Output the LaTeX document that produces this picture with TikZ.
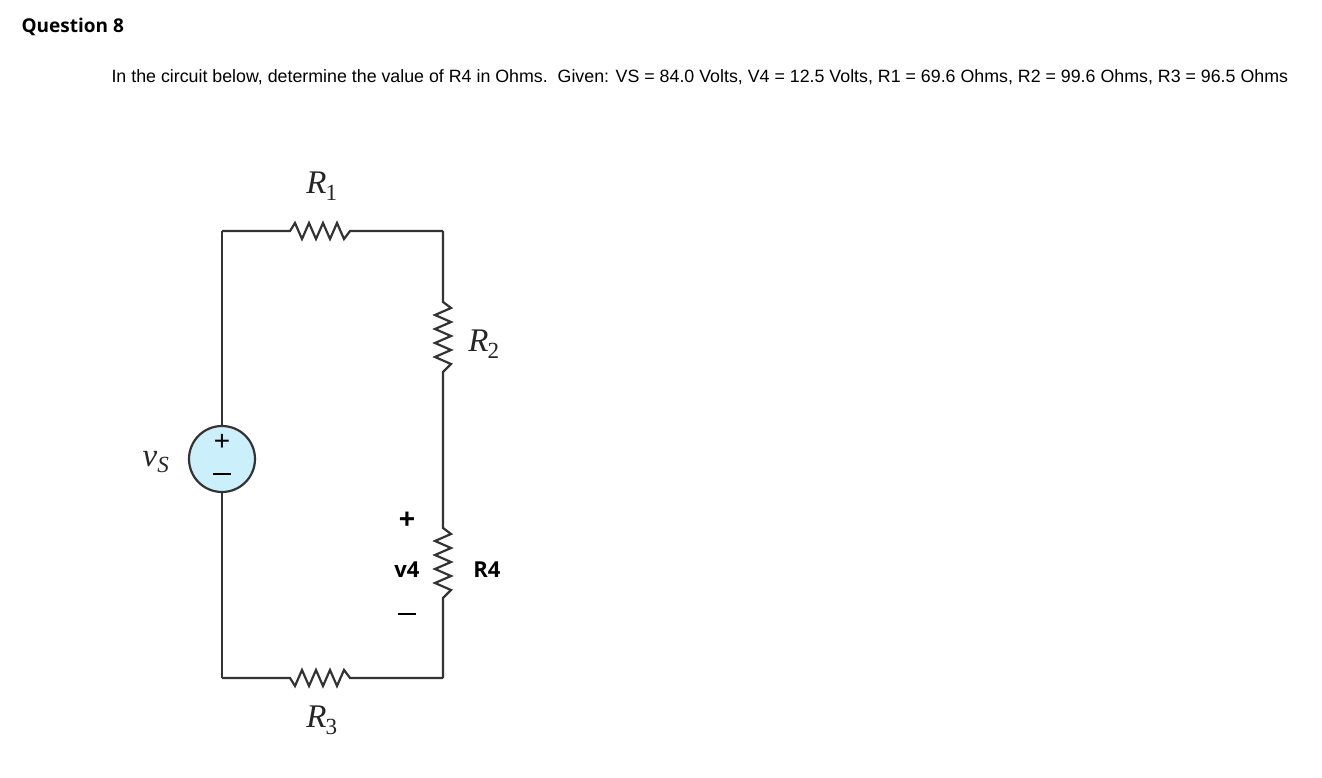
\documentclass[tikz,border=0pt]{standalone}
\usepackage{fontspec}
\setmainfont{Liberation Sans}
\newfontfamily\osans{Open Sans}
\newfontfamily\serifR{Liberation Serif}
\begin{document}
\begin{tikzpicture}[x=1pt,y=-1pt,
  wire/.style={line width=2.2pt,draw=black!80},
  lbl/.style={font=\serifR\fontsize{33}{33}\selectfont\itshape, text=black!85}]
\useasboundingbox (0,0) rectangle (1322,778);
\node[anchor=west,font=\osans\bfseries\fontsize{19}{19}\selectfont] (q) at (18,27) {Question 8};
\node[anchor=west,font=\fontsize{17.8}{17.8}\selectfont] (t) at (108,77) {In the circuit below, determine the value of R4 in Ohms.\ \ Given: VS = 84.0 Volts, V4 = 12.5 Volts, R1 = 69.6 Ohms, R2 = 99.6 Ohms, R3 = 96.5 Ohms};
\coordinate (tl) at (222,231); \coordinate (tr) at (443,231);
\coordinate (bl) at (222,678); \coordinate (br) at (443,678);
\node[circle,draw=black!80,line width=2.2pt,fill=cyan!20,minimum size=66pt,inner sep=0] (vs) at (222,459) {};
\node at (222,442) {\fontsize{28}{28}\selectfont +};
\draw[line width=1.5pt] (213,474) -- (231,474);
% R1
\draw[wire] (tl) -- (290,231) -- (295,223) -- (302,239) -- (309,223) -- (316,239) -- (323,223) -- (330,239) -- (337,223) -- (344,239) -- (350,231) -- (tr);
% R2, R4
\draw[wire] (tr) -- (443,302) -- (451,308) -- (435,315) -- (451,322) -- (435,329) -- (451,336) -- (435,343) -- (451,350) -- (435,357) -- (451,364) -- (443,372) -- (443,528) -- (451,534) -- (435,541) -- (451,548) -- (435,555) -- (451,562) -- (435,569) -- (451,576) -- (435,583) -- (451,590) -- (443,598) -- (br);
% R3
\draw[wire] (br) -- (350,678) -- (344,670) -- (337,686) -- (330,670) -- (323,686) -- (316,670) -- (309,686) -- (302,670) -- (295,686) -- (290,678) -- (bl);
\draw[wire] (bl) -- (vs.south);
\draw[wire] (vs.north) -- (tl);
\node[lbl] (r1) at (322,186) {R\kern-1pt\textsubscript{\upshape 1}};
\node[lbl] (r2) at (484,344) {R\kern-1pt\textsubscript{\upshape 2}};
\node[lbl] (r3) at (322,720) {R\kern-1pt\textsubscript{\upshape 3}};
\node[lbl] (vsl) at (156,462) {v\textsubscript{S}};
\node[font=\fontsize{28}{28}\selectfont\bfseries] (pl) at (407,520) {+};
\draw[line width=2pt] (398,614) -- (416,614);
\node[font=\osans\bfseries\fontsize{22}{22}\selectfont] (v4) at (407,570) {v4};
\node[font=\osans\bfseries\fontsize{22}{22}\selectfont] (r4) at (487,570) {R4};
\end{tikzpicture}
\end{document}
